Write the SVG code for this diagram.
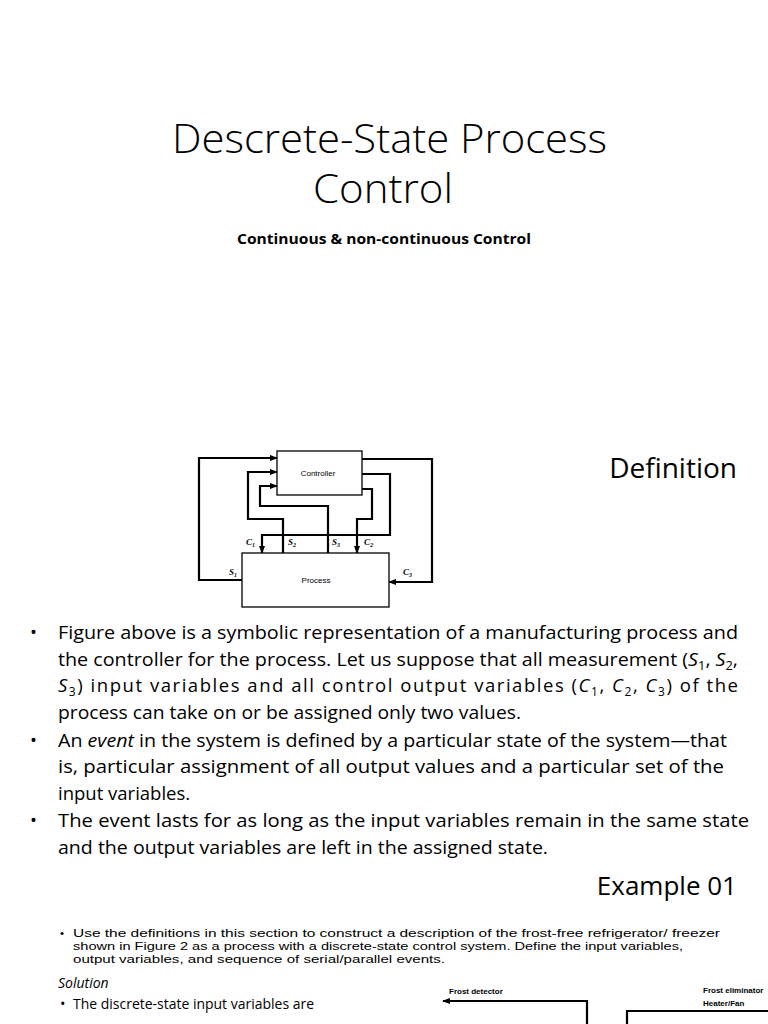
<svg xmlns="http://www.w3.org/2000/svg" width="768" height="1024" viewBox="0 0 768 1024">
<style>
.t{font-family:"Open Sans","Liberation Sans",sans-serif;fill:#000}
.b{font-size:18.5px}
.s{font-family:"Liberation Sans",sans-serif;font-size:11.5px}
.d{font-family:"Liberation Sans",sans-serif;font-size:8px}
.l{fill:none;stroke:#000;stroke-width:2.2}
.bx{fill:#fff;stroke:#000;stroke-width:1.3}
.v{font-family:"Liberation Serif",serif;font-style:italic;font-size:9px;font-weight:bold}
</style>
<defs><marker id="a" markerWidth="8" markerHeight="8" refX="7" refY="4" orient="auto" markerUnits="userSpaceOnUse"><path d="M0,1 L8,4 L0,7 z"/></marker></defs>
<rect width="768" height="1024" fill="#fff"/>
<text class="t" x="172" y="153" textLength="435" lengthAdjust="spacingAndGlyphs" font-size="40" font-weight="300">Descrete-State Process</text>
<text class="t" x="313" y="203" textLength="140" lengthAdjust="spacingAndGlyphs" font-size="40" font-weight="300">Control</text>
<text class="t" x="237" y="244" textLength="294" lengthAdjust="spacingAndGlyphs" font-size="14.5" font-weight="bold" fill="#222">Continuous &amp; non-continuous Control</text>
<g id="connectors">
<path class="l" d="M242,580 H199 V458 H277" marker-end="url(#a)"/>
<path class="l" d="M283,553 V519 H248 V472 H277" marker-end="url(#a)"/>
<path class="l" d="M328,553 V506 H260 V486 H277" marker-end="url(#a)"/>
<path class="l" d="M362,474 H390 V535 H262 V553" marker-end="url(#a)"/>
<path class="l" d="M362,489 H372 V519 H357 V553" marker-end="url(#a)"/>
<path class="l" d="M362,459 H432 V582 H389" marker-end="url(#a)"/>
</g>
<g id="controller"><rect class="bx" x="277" y="451" width="85" height="44"/><text class="d" x="318" y="476" text-anchor="middle">Controller</text></g>
<g id="process"><rect class="bx" x="242" y="553" width="147" height="54"/><text class="d" x="316" y="583" text-anchor="middle">Process</text></g>
<text class="v" x="246" y="545">C<tspan font-size="6" dy="2">1</tspan></text>
<text class="v" x="288" y="545">S<tspan font-size="6" dy="2">2</tspan></text>
<text class="v" x="332" y="545">S<tspan font-size="6" dy="2">3</tspan></text>
<text class="v" x="364" y="545">C<tspan font-size="6" dy="2">2</tspan></text>
<text class="v" x="229" y="575">S<tspan font-size="6" dy="2">1</tspan></text>
<text class="v" x="403" y="575">C<tspan font-size="6" dy="2">3</tspan></text>
<text class="t" x="737" y="478" text-anchor="end" font-size="28">Definition</text>
<g class="t b">
<text x="30" y="639">•</text><text x="58" y="639" textLength="680" lengthAdjust="spacingAndGlyphs">Figure above is a symbolic representation of a manufacturing process and</text>
<text x="58" y="666" textLength="680" lengthAdjust="spacingAndGlyphs">the controller for the process. Let us suppose that all measurement (<tspan font-style="italic">S</tspan><tspan font-size="12" dy="4">1</tspan><tspan dy="-4">, </tspan><tspan font-style="italic">S</tspan><tspan font-size="12" dy="4">2</tspan><tspan dy="-4">,</tspan></text>
<text x="58" y="692" textLength="680" lengthAdjust="spacing"><tspan font-style="italic">S</tspan><tspan font-size="12" dy="4">3</tspan><tspan dy="-4">) input variables and all control output variables (</tspan><tspan font-style="italic">C</tspan><tspan font-size="12" dy="4">1</tspan><tspan dy="-4">, </tspan><tspan font-style="italic">C</tspan><tspan font-size="12" dy="4">2</tspan><tspan dy="-4">, </tspan><tspan font-style="italic">C</tspan><tspan font-size="12" dy="4">3</tspan><tspan dy="-4">) of the</tspan></text>
<text x="58" y="719" textLength="463" lengthAdjust="spacingAndGlyphs">process can take on or be assigned only two values.</text>
<text x="30" y="747">•</text><text x="58" y="747" textLength="669" lengthAdjust="spacingAndGlyphs">An <tspan font-style="italic">event</tspan> in the system is defined by a particular state of the system—that</text>
<text x="58" y="773" textLength="666" lengthAdjust="spacingAndGlyphs">is, particular assignment of all output values and a particular set of the</text>
<text x="58" y="800">input variables.</text>
<text x="30" y="827">•</text><text x="58" y="827" textLength="691" lengthAdjust="spacingAndGlyphs">The event lasts for as long as the input variables remain in the same state</text>
<text x="58" y="854" textLength="490" lengthAdjust="spacingAndGlyphs">and the output variables are left in the assigned state.</text>
</g>
<text class="t" x="737" y="895" text-anchor="end" font-size="26">Example 01</text>
<g class="t s">
<text x="60" y="937">•</text><text x="73" y="937" textLength="647" lengthAdjust="spacingAndGlyphs">Use the definitions in this section to construct a description of the frost-free refrigerator/ freezer</text>
<text x="73" y="950" textLength="610" lengthAdjust="spacingAndGlyphs">shown in Figure 2 as a process with a discrete-state control system. Define the input variables,</text>
<text x="73" y="963" textLength="372" lengthAdjust="spacingAndGlyphs">output variables, and sequence of serial/parallel events.</text>
</g>
<text class="t" x="58" y="988" font-size="14" font-style="italic">Solution</text>
<text class="t" x="60" y="1009" font-size="14.5">•</text><text class="t" x="73" y="1009" font-size="14.5" textLength="241" lengthAdjust="spacingAndGlyphs">The discrete-state input variables are</text>
<text class="d" x="449" y="994" font-weight="bold" font-size="7.5">Frost detector</text>
<text class="d" x="703" y="993" font-weight="bold" font-size="7.5">Frost eliminator</text>
<text class="d" x="703" y="1006" font-weight="bold" font-size="7.5">Heater/Fan</text>
<path class="l" d="M587,1024 V1001 H443" marker-end="url(#a)"/>
<path class="l" d="M768,1011 H627 V1024"/>
</svg>
